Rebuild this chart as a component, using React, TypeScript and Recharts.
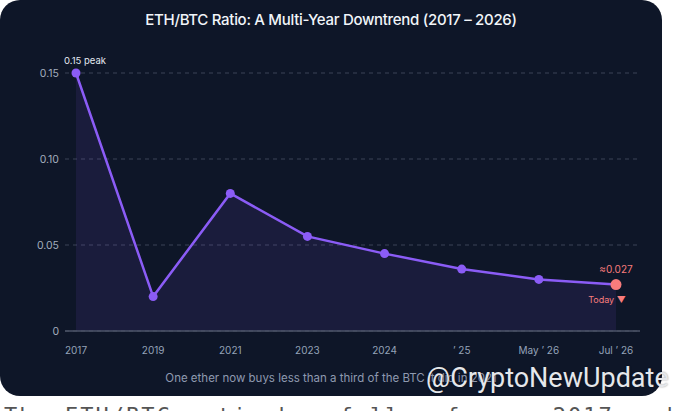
import { ComposedChart, Area, Line, XAxis, YAxis, CartesianGrid } from 'recharts';

const labels = ['2017', '2019', '2021', '2023', '2024', '’ 25', 'May ’ 26', 'Jul ’ 26'];
const ratios = [0.15, 0.02, 0.08, 0.055, 0.045, 0.036, 0.03, 0.027];
const yTicks = [0, 0.05, 0.1, 0.15];

const chartData = labels.map((label, i) => ({ label, ratio: ratios[i] }));

const VIOLET = '#8b5cf6';
const CORAL = '#f87c7c';
const last = chartData.length - 1;

function Dot(props: any) {
  const { cx, cy, index } = props;
  if (cx == null || cy == null) return null;
  if (index === last) {
    return (
      <g>
        <circle cx={cx} cy={cy} r={5.5} fill={CORAL} />
        <text x={cx} y={cy - 12} textAnchor="middle" fill={CORAL} fontSize={10}>
          ≈0.027
        </text>
        <text x={cx - 9} y={cy + 18} textAnchor="middle" fill={CORAL} fontSize={9}>
          Today ▼
        </text>
      </g>
    );
  }
  return (
    <g>
      <circle cx={cx} cy={cy} r={4.5} fill={VIOLET} />
      {index === 0 && (
        <text x={cx + 9} y={cy - 9} textAnchor="middle" fill="#e2e8f0" fontSize={9.5}>
          0.15 peak
        </text>
      )}
    </g>
  );
}

export default function App() {
  return (
    <div style={{ position: 'relative', width: 679, height: 411, background: '#fff', overflow: 'hidden', fontFamily: 'Inter, sans-serif' }}>
      <style>{'body{margin:0}'}</style>
      <div
        style={{
          position: 'absolute',
          left: 0,
          top: 0,
          width: 662,
          height: 396,
          borderRadius: 20,
          background: '#0e1628',
          overflow: 'hidden',
        }}
      >
        <div
          style={{
            position: 'absolute',
            top: 10,
            left: 0,
            width: 662,
            textAlign: 'center',
            color: '#f1f5f9',
            fontSize: 15,
            fontWeight: 500,
            letterSpacing: -0.3,
          }}
        >
          ETH/BTC Ratio: A Multi-Year Downtrend (2017 – 2026)
        </div>
        <ComposedChart width={662} height={396} data={chartData} margin={{ top: 73, right: 22, bottom: 35, left: 15 }}>
          <CartesianGrid vertical={false} stroke="#3a4357" strokeDasharray="4 4" />
          <XAxis
            dataKey="label"
            padding={{ left: 11, right: 24 }}
            axisLine={{ stroke: '#4c5569', strokeWidth: 1.5 }}
            tickLine={false}
            tickMargin={10}
            tick={{ fill: '#94a3b8', fontSize: 10 }}
            interval={0}
          />
          <YAxis
            domain={[0, 0.15]}
            ticks={yTicks}
            width={50}
            axisLine={false}
            tickLine={false}
            tickMargin={0}
            tick={{ fill: '#a3adbd', fontSize: 10.5 }}
            tickFormatter={(v: number) => (v === 0 ? '0' : v.toFixed(2))}
          />
          <Area
            type="linear"
            dataKey="ratio"
            stroke="none"
            fill={VIOLET}
            fillOpacity={0.1}
            isAnimationActive={false}
          />
          <Line
            type="linear"
            dataKey="ratio"
            stroke={VIOLET}
            strokeWidth={2.5}
            dot={<Dot />}
            activeDot={false}
            isAnimationActive={false}
          />
        </ComposedChart>
        <div
          style={{
            position: 'absolute',
            top: 371,
            left: 0,
            width: 662,
            textAlign: 'center',
            color: '#8f9ab0',
            fontSize: 11.5,
          }}
        >
          One ether now buys less than a third of the BTC it did in 2021
        </div>
      </div>
      <div
        style={{
          position: 'absolute',
          top: 362,
          left: 426,
          color: '#e5e7eb',
          fontSize: 27,
          fontFamily: 'Roboto, sans-serif',
          textShadow: '0 0 2px rgba(0,0,0,0.4)',
          whiteSpace: 'nowrap',
        }}
      >
        @CryptoNewUpdate
      </div>
      <div
        style={{
          position: 'absolute',
          top: 403,
          left: 4,
          color: '#555',
          fontSize: 22,
          fontFamily: '"DejaVu Sans Mono", monospace',
          letterSpacing: 2,
          whiteSpace: 'nowrap',
        }}
      >
        The ETH/BTC ratio has fallen from a 2017 and
      </div>
    </div>
  );
}
